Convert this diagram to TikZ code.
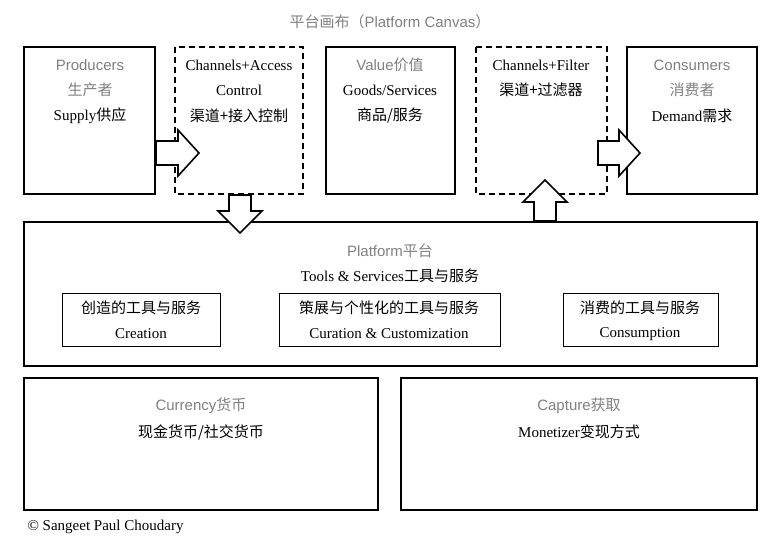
\documentclass[tikz,border=0pt]{standalone}
\usepackage{fontspec}
\setmainfont{Liberation Serif}
\newfontfamily\cjk{Noto Sans CJK SC}
\newfontfamily\sans{Liberation Sans}
\newcommand{\zh}[1]{{\cjk #1}}
\begin{document}
\begin{tikzpicture}[x=1pt,y=-1pt,
 box/.style={draw,line width=2pt},
 dbox/.style={draw,line width=2pt,dash pattern=on 6pt off 4pt},
 sub/.style={draw,line width=1pt},
 g/.style={text=gray,font=\sans\fontsize{15}{17}\selectfont},
 t/.style={font=\fontsize{15}{17}\selectfont},
 arr/.style={draw,line width=1.6pt,fill=white}]
\useasboundingbox (0,0) rectangle (768,542);
\node[g] (title) at (390,22) {\zh{平台画布（}Platform Canvas\zh{）}};
\draw[box] (24,47) rectangle (155,194);
\draw[dbox] (175,47) rectangle (303,194);
\draw[box] (326,47) rectangle (455,194);
\draw[dbox] (476,47) rectangle (607,194);
\draw[box] (627,47) rectangle (757,194);
\node[g] (p1) at (90,65) {Producers};
\node[g] (p2) at (90,90) {\zh{生产者}};
\node[t] (p3) at (90,116) {Supply\zh{供应}};
\node[t] (c1) at (239,65) {Channels+Access};
\node[t] (c2) at (239,90) {Control};
\node[t] (c3) at (239,116) {\zh{渠道+接入控制}};
\node[g] (v1) at (390,65) {Value\zh{价值}};
\node[t] (v2) at (390,90) {Goods/Services};
\node[t] (v3) at (390,116) {\zh{商品/服务}};
\node[t] (f1) at (541,65) {Channels+Filter};
\node[t] (f2) at (541,90) {\zh{渠道+过滤器}};
\node[g] (k1) at (692,65) {Consumers};
\node[g] (k2) at (692,90) {\zh{消费者}};
\node[t] (k3) at (692,116) {Demand\zh{需求}};
% platform
\draw[box] (24,222) rectangle (757,366);
\node[g] (pl) at (390,251) {Platform\zh{平台}};
\node[t] (ts) at (390,276) {Tools \& Services\zh{工具与服务}};
\draw[sub] (62,293) rectangle (220,346);
\draw[sub] (279,293) rectangle (500,346);
\draw[sub] (563,293) rectangle (718,346);
\node[t] (s1) at (141,308) {\zh{创造的工具与服务}};
\node[t] (s1b) at (141,334) {Creation};
\node[t] (s2) at (389,308) {\zh{策展与个性化的工具与服务}};
\node[t] (s2b) at (389,334) {Curation \& Customization};
\node[t] (s3) at (640,308) {\zh{消费的工具与服务}};
\node[t] (s3b) at (640,334) {Consumption};
% arrows
\draw[arr] (156,141) -- (178,141) -- (178,130) -- (199,153) -- (178,176) -- (178,165) -- (156,165) -- cycle;
\draw[arr] (598,141) -- (619,141) -- (619,130) -- (640,153) -- (619,176) -- (619,165) -- (598,165) -- cycle;
\draw[arr] (229,195) -- (251,195) -- (251,211) -- (262,211) -- (240,233) -- (218,211) -- (229,211) -- cycle;
\draw[arr] (534,221) -- (556,221) -- (556,202) -- (567,202) -- (545,180) -- (523,202) -- (534,202) -- cycle;
% bottom
\draw[box] (24,378) rectangle (378,510);
\draw[box] (401,378) rectangle (757,510);
\node[g] (cu) at (201,406) {Currency\zh{货币}};
\node[t] (cu2) at (201,432) {\zh{现金货币/社交货币}};
\node[g] (ca) at (579,406) {Capture\zh{获取}};
\node[t] (ca2) at (579,432) {Monetizer\zh{变现方式}};
\node[t,anchor=west] (cp) at (24,527) {© Sangeet Paul Choudary};
\end{tikzpicture}
\end{document}
